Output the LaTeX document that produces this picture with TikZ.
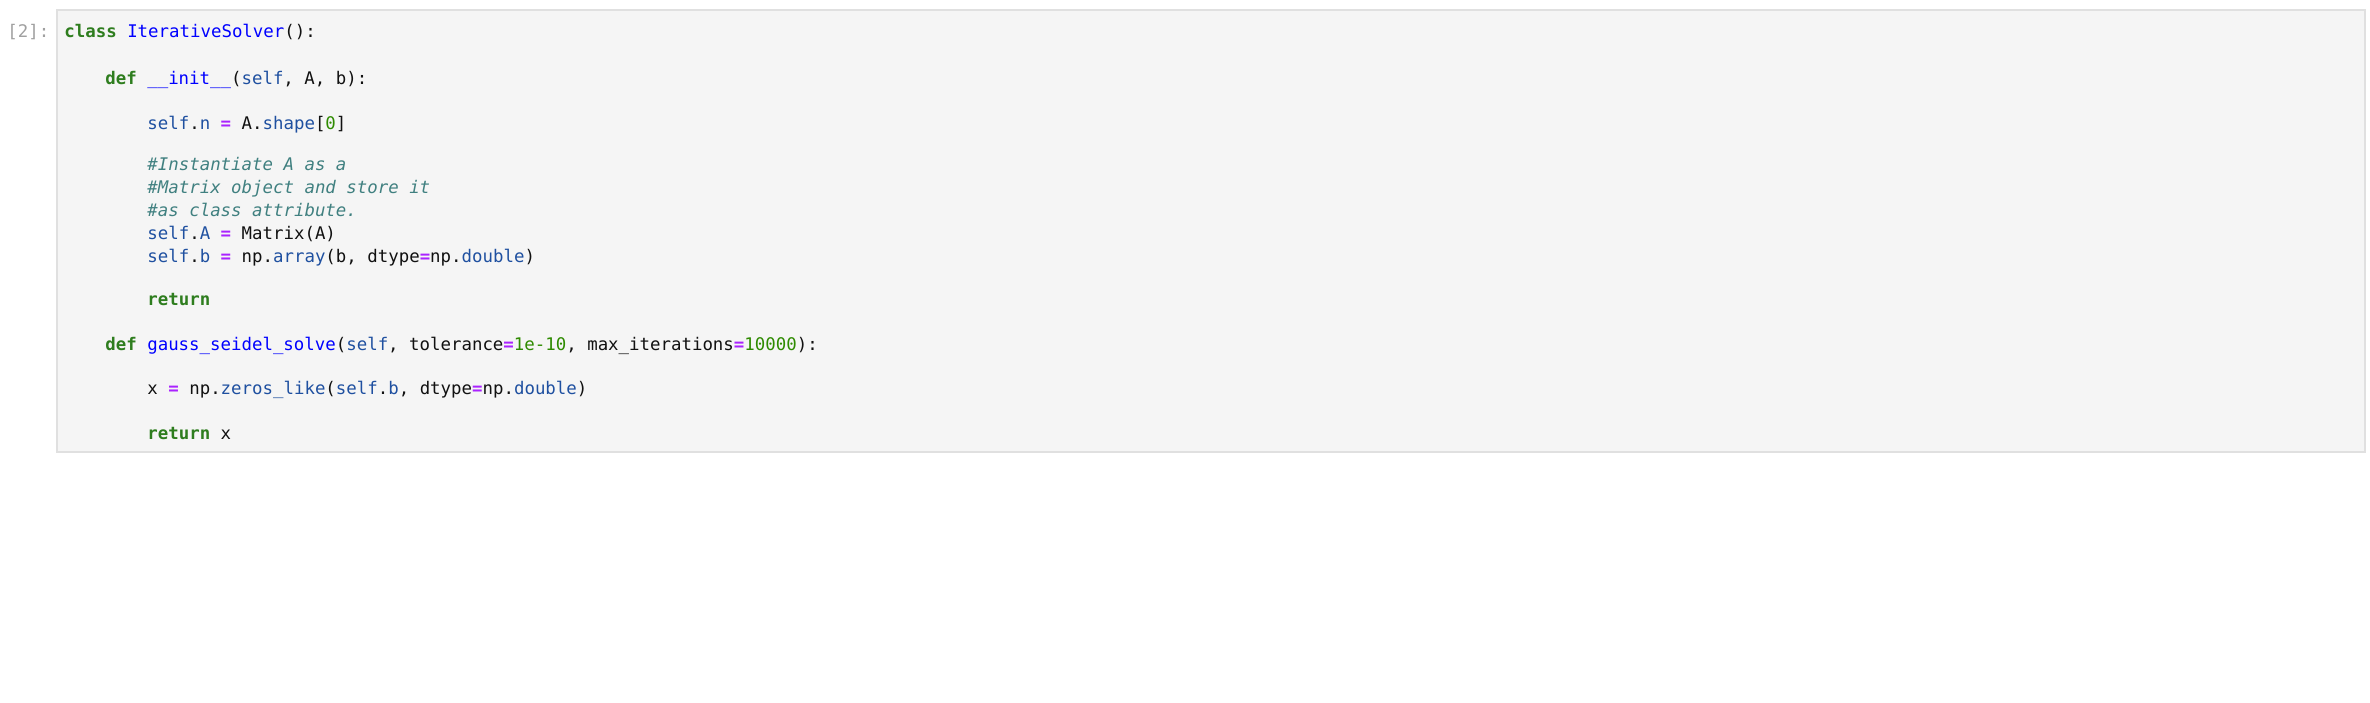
\documentclass[tikz,border=0pt]{standalone}
\usepackage{fontspec}
\setmonofont{DejaVu Sans Mono}
\definecolor{kwc}{HTML}{2E7D1E}
\definecolor{fnc}{HTML}{0000FF}
\definecolor{vbc}{HTML}{1F50A0}
\definecolor{opc}{HTML}{AA22FF}
\definecolor{cmc}{HTML}{408080}
\definecolor{nbc}{HTML}{2E8B00}
\definecolor{txc}{HTML}{111111}
\newcommand\Kw[1]{\textcolor{kwc}{\bfseries #1}}
\newcommand\Fn[1]{\textcolor{fnc}{#1}}
\newcommand\Vb[1]{\textcolor{vbc}{#1}}
\newcommand\Op[1]{\textcolor{opc}{\bfseries #1}}
\newcommand\Cm[1]{\textcolor{cmc}{\itshape #1}}
\newcommand\Nb[1]{\textcolor{nbc}{#1}}
\begin{document}
\begin{tikzpicture}[x=0.5pt,y=-0.5pt,
  code/.style={anchor=base west,inner sep=0pt,font=\ttfamily\fontsize{8.7pt}{10pt}\selectfont,text=txc}]
\useasboundingbox (0,0) rectangle (2370,702);
\fill[white] (0,0) rectangle (2370,702);
\draw[fill={rgb,255:red,245;green,245;blue,245},draw={rgb,255:red,224;green,224;blue,224},line width=1pt] (57,10) rectangle (2365,452);
\node[code,text={rgb,255:red,160;green,160;blue,160}] (prompt) at (7,37) {[2]:};
\node[code] (l1) at (64,37) {\Kw{class} \Fn{IterativeSolver}():};
\node[code] (l2) at (105,84) {\Kw{def} \Fn{\_\_init\_\_}(\Vb{self}, A, b):};
\node[code] (l3) at (147,129) {\Vb{self}.\Vb{n} \Op{=} A.\Vb{shape}[\Nb{0}]};
\node[code] (l4) at (147,170) {\Cm{\#Instantiate A as a}};
\node[code] (l5) at (147,193) {\Cm{\#Matrix object and store it}};
\node[code] (l6) at (147,216) {\Cm{\#as class attribute.}};
\node[code] (l7) at (147,239) {\Vb{self}.\Vb{A} \Op{=} Matrix(A)};
\node[code] (l8) at (147,262) {\Vb{self}.\Vb{b} \Op{=} np.\Vb{array}(b, dtype\Op{=}np.\Vb{double})};
\node[code] (l9) at (147,305) {\Kw{return}};
\node[code] (l10) at (105,350) {\Kw{def} \Fn{gauss\_seidel\_solve}(\Vb{self}, tolerance\Op{=}\Nb{1e-10}, max\_iterations\Op{=}\Nb{10000}):};
\node[code] (l11) at (147,394) {x \Op{=} np.\Vb{zeros\_like}(\Vb{self}.\Vb{b}, dtype\Op{=}np.\Vb{double})};
\node[code] (l12) at (147,439) {\Kw{return} x};
\end{tikzpicture}
\end{document}
